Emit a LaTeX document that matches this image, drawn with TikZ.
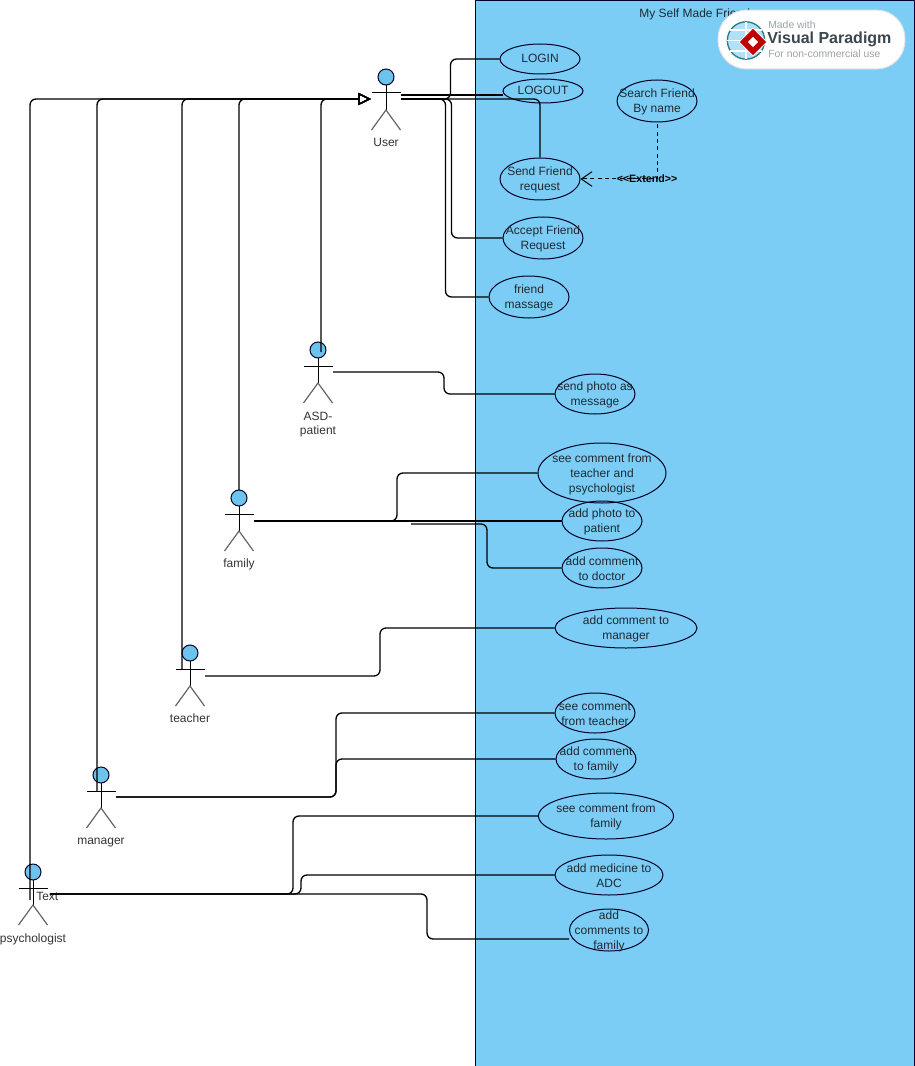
\documentclass[tikz,border=0pt]{standalone}
\usepackage{fontspec}
\setmainfont{Liberation Sans}
\usetikzlibrary{arrows.meta,shapes.geometric,calc}
\definecolor{sysblue}{HTML}{7BCDF5}
\definecolor{headblue}{HTML}{6CC4EE}
\definecolor{txt}{HTML}{1E2A33}
\definecolor{wmdark}{HTML}{3A4650}
\definecolor{wmgrey}{HTML}{9AA3A8}
\tikzset{
  sysbox/.style={draw=black!85!blue,fill=sysblue,line width=.75pt},
  ucshape/.style={ellipse,draw=black!85!blue,line width=.75pt,inner sep=0pt},
  uctext/.style={font=\fontsize{9}{11.2}\selectfont,text=txt,align=center,inner sep=0pt},
  actorlabel/.style={font=\fontsize{9}{10.5}\selectfont,text=black!80,align=center,inner sep=0pt},
  conn/.style={line width=1pt,black,rounded corners=4.5pt},
  gen/.style={conn,-{Triangle[open,length=9.5pt,width=9pt,line width=1pt]}},
  ext/.style={line width=.75pt,black,dash pattern=on 3pt off 2.5pt,-{Straight Barb[length=8pt,width=11pt,line width=.75pt]}},
  heads/.style={circle,draw=black!85!blue,fill=headblue,line width=.75pt,minimum size=12pt,inner sep=0pt},
}
\newcommand{\usecase}[6]{%
  \node[ucshape,minimum width=#4*1.5pt,minimum height=#5*1.5pt] (#1) at (#2,#3) {};
  \node[uctext,yshift=-.75pt] (#1t) at (#2,#3) {#6};}
\newcommand{\actorfig}[5]{%
  \begin{scope}[shift={(#2,#3)}]
    \draw[line width=.75pt,black] (-14.5,16) -- (14.5,16) (0,8) -- (0,33);
    \draw[line width=.9pt,black!60] (-14.5,53) -- (0,33) -- (14.5,53);
    \node[heads] (#1) at (0,0) {};
    \node[actorlabel,anchor=north] (#1l) at (0,#4) {#5};
  \end{scope}}
\begin{document}
\begin{tikzpicture}[x=.75pt,y=-.75pt]
\useasboundingbox (0,0) rectangle (914,1066);
\fill[white] (0,0) rectangle (914,1066);
\node[sysbox,draw,minimum width=329.5pt,minimum height=800pt,inner sep=0pt,anchor=north west] (system) at (475,0) {};
\node[uctext,anchor=west] (title) at (639,14) {My Self Made Friend};

\usecase{login}{540}{59}{40}{15}{\raisebox{3pt}{LOGIN}}
\usecase{logout}{543}{91}{40}{12}{\raisebox{3pt}{LOGOUT}}
\usecase{search}{657}{101}{40}{21}{Search Friend\\By name}
\usecase{send}{540}{179}{40}{21}{Send Friend\\request}
\usecase{accept}{543}{238}{40}{21}{Accept Friend\\Request}
\usecase{massage}{529}{297}{40}{21}{friend\\massage}
\usecase{photo}{595}{394}{40}{20}{send photo as\\message}
\usecase{seeTP}{602}{473}{64}{30}{see comment from\\teacher and\\psychologist}
\usecase{addphoto}{602}{521}{40}{20}{add photo to\\patient}
\usecase{adddoc}{602}{568}{40}{20}{add comment\\to doctor}
\usecase{addman}{626}{628}{71}{20}{add comment to\\manager}
\usecase{seeT}{595}{713}{40}{20}{see comment\\from teacher}
\usecase{addfam}{596}{759}{40}{20}{add comment\\to family}
\usecase{seeF}{606}{816}{67.5}{23}{see comment from\\family}
\usecase{addmed}{609}{875}{54}{20}{add medicine to\\ADC}
\usecase{addcf}{609}{930}{39.5}{21}{add\\comments to\\family}

\actorfig{user}{386}{77}{61}{User}
\actorfig{asd}{318}{350}{62}{ASD-\\patient}
\actorfig{family}{239}{498}{61}{family}
\actorfig{teacher}{190}{653}{61}{teacher}
\actorfig{manager}{101}{775}{63}{manager}
\actorfig{psych}{33}{872}{62}{psychologist}
\node[uctext,anchor=west,text=black!80] (textlabel) at (36,896) {Text};

\coordinate (userL) at (371,99);
\coordinate (userR) at (401,99);
\coordinate (userRb) at (401,95);
\coordinate (asdTop) at (321,352);
\coordinate (asdR) at (333,372);
\coordinate (famTop) at (239,490);
\coordinate (famR) at (254,521);
\coordinate (famRb) at (411,524);
\coordinate (teaTop) at (182,669);
\coordinate (teaR) at (205,676);
\coordinate (manTop) at (97,791);
\coordinate (manR) at (116,797);
\coordinate (psyTop) at (30,900);
\coordinate (psyR) at (50,894);

\draw[gen] (psyTop) -- (30,99) -- (userL);
\draw[gen] (manTop) -- (97,99) -- (userL);
\draw[gen] (teaTop) -- (182,99) -- (userL);
\draw[gen] (famTop) -- (239,99) -- (userL);
\draw[gen] (asdTop) -- (321,99) -- (userL);

\draw[conn] (userR) -- (450.5,99) -- (450.5,59) -- (login.west);
\draw[conn] (userRb) -- (logout.west |- userRb);
\draw[conn] (userR) -- (540,99) -- (send.north);
\draw[conn] (userR) -- (451.5,99) -- (451.5,238) -- (accept.west);
\draw[conn] (userR) -- (445.5,99) -- (445.5,297) -- (massage.west);
\draw[ext] (search.south) ++(0,2) -- (657,179) -- (send.east);
\node[uctext,font=\fontsize{8}{10}\selectfont\bfseries,text=black] (extlabel) at (647,179) {<{}<Extend>{}>};

\draw[conn] (asdR) -- (444,372) -- (444,394) -- (photo.west);
\draw[conn] (famR) -- (397,521) -- (397,473) -- (seeTP.west);
\draw[conn] (famR) -- (addphoto.west);
\draw[conn] (famRb) -- (487,524) -- (487,568) -- (adddoc.west);
\draw[conn] (teaR) -- (380,676) -- (380,628) -- (addman.west);
\draw[conn] (manR) -- (336,797) -- (336,713) -- (seeT.west);
\draw[conn] (manR) -- (336,797) -- (336,759) -- (addfam.west);
\draw[conn] (psyR) -- (293,894) -- (293,816) -- (seeF.west);
\draw[conn] (psyR) -- (301,894) -- (301,875) -- (addmed.west);
\draw[conn] (psyR) -- (427,894) -- (427,939) -- (addcf.west |- 0,939);

% watermark
\node[draw=white!90!black,fill=white,rounded corners=21pt,minimum width=140pt,minimum height=44pt,inner sep=0pt,line width=.75pt] (wm) at (811.5,39.5) {};
\node[circle,draw=wmdark!70!cyan,fill=sysblue!60!white,line width=1pt,minimum size=28pt,inner sep=0pt] (globe) at (746,40.5) {};
\draw[white,line width=.8pt] (727,40.5) -- (765,40.5) (746,22) -- (746,59) (730,30) -- (762,30) (730,51) -- (762,51);
\node[diamond,fill=red!75!black,draw=white,line width=.6pt,minimum size=21pt,inner sep=0pt] (gem) at (753,42) {};
\node[diamond,fill=white,minimum size=8pt,inner sep=0pt] (gemin) at (753,42) {};
\node[anchor=west,inner sep=0pt,text=wmgrey,font=\fontsize{7.8}{9}\selectfont] (wm1) at (768,25) {Made with};
\node[anchor=west,inner sep=0pt,text=wmdark,font=\fontsize{12}{14}\selectfont\bfseries] (wm2) at (767,39.5) {Visual Paradigm};
\node[anchor=west,inner sep=0pt,text=wmgrey,font=\fontsize{7.8}{9}\selectfont] (wm3) at (768,53.5) {For non-commercial use};
\end{tikzpicture}
\end{document}
